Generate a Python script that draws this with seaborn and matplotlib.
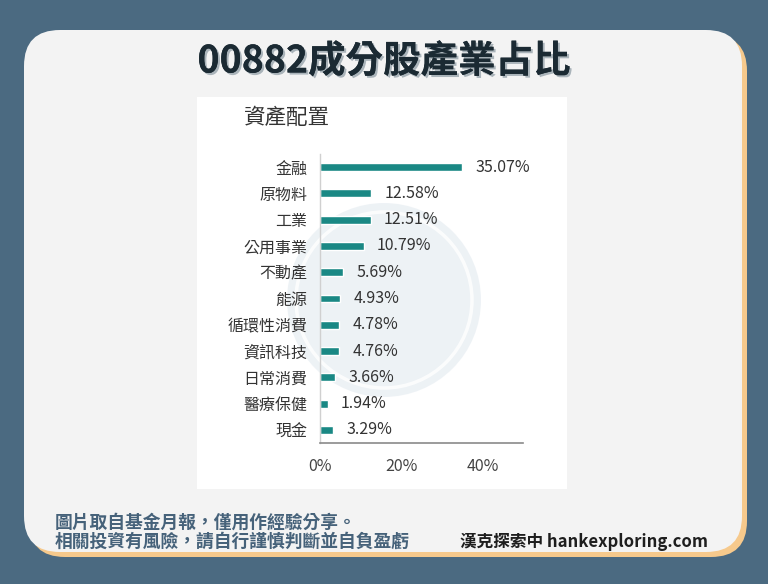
import matplotlib
matplotlib.use("Agg")
import matplotlib.pyplot as plt
import matplotlib.patheffects as pe
from matplotlib.patches import FancyBboxPatch, Rectangle, Circle
import pandas as pd
import seaborn as sns

# ---- data ----
categories = ["金融", "原物料", "工業", "公用事業", "不動產", "能源",
              "循環性消費", "資訊科技", "日常消費", "醫療保健", "現金"]
values = [35.07, 12.58, 12.51, 10.79, 5.69, 4.93, 4.78, 4.76, 3.66, 1.94, 3.29]
x_ticks = [0, 20, 40]
x_tick_labels = ["0%", "20%", "40%"]
title = "00882成分股產業占比"
panel_title = "資產配置"
footer_lines = ["圖片取自基金月報，僅用作經驗分享。",
                "相關投資有風險，請自行謹慎判斷並自負盈虧"]
brand = "漢克探索中 hankexploring.com"

sns.set_theme(style="white")
plt.rcParams["font.family"] = ["Noto Sans CJK TC", "DejaVu Sans"]

W, H = 768, 584
fig = plt.figure(figsize=(W / 100, H / 100), dpi=100, facecolor="#4b6a81")

# background / decoration axes in pixel coordinates
bg = fig.add_axes([0, 0, 1, 1], zorder=0)
bg.set_xlim(0, W)
bg.set_ylim(H, 0)
bg.axis("off")

bg.add_patch(FancyBboxPatch((29, 35), 718, 522,
                            boxstyle="round,pad=0,rounding_size=36",
                            fc="#f6c98c", ec="none"))
bg.add_patch(FancyBboxPatch((24, 30), 718, 522,
                            boxstyle="round,pad=0,rounding_size=36",
                            fc="#f3f3f3", ec="none"))
bg.add_patch(Rectangle((197, 97), 370, 392, fc="white", ec="none"))

# faint watermark (logo disc)
bg.add_patch(Circle((384, 300), 97, fc="#dde6ed", ec="none", alpha=0.5))
bg.add_patch(Circle((384, 300), 88, fc="none", ec="white", lw=2.5, alpha=0.8))

# title with soft shadow
bg.text(384, 61, title, ha="center", va="center", fontsize=27,
        fontweight="heavy", color="#1b2a33",
        path_effects=[pe.withSimplePatchShadow(offset=(1.5, -1.5),
                                               shadow_rgbFace="#7a8a95",
                                               alpha=0.6),
                      pe.Normal()])

bg.text(244, 118, panel_title, ha="left", va="center", fontsize=15.5,
        fontweight="medium", color="#333333")

bg.text(55, 523, footer_lines[0], ha="left", va="center", fontsize=12.8,
        fontweight="bold", color="#46627a")
bg.text(55, 542, footer_lines[1], ha="left", va="center", fontsize=12.8,
        fontweight="bold", color="#46627a")
bg.text(708, 542, brand, ha="right", va="center", fontsize=12,
        fontweight="bold", color="#1e1e1e")

# ---- bar chart ----
df = pd.DataFrame({"category": categories, "value": values})
ax = fig.add_axes([320 / W, 1 - 443 / H, 203 / W, 289 / H], zorder=2)
ax.set_facecolor("none")
sns.barplot(data=df, y="category", x="value", orient="h",
            color="#1a8884", width=0.3, saturation=1, ax=ax)

ax.bar_label(ax.containers[0], labels=[f"{v:.2f}%" for v in values],
             padding=9.5, fontsize=11.5, fontweight="medium", color="#333333")

ax.set_xlim(0, 50)
ax.set_xticks(x_ticks)
ax.set_xticklabels(x_tick_labels, fontsize=11.5, fontweight="medium",
                   color="#444444")
ax.set_xlabel("")
ax.set_ylabel("")
ax.tick_params(axis="y", length=0, pad=9, labelsize=11.5, labelcolor="#333333")
for t in ax.get_yticklabels():
    t.set_fontweight("medium")
ax.tick_params(axis="x", direction="inout", length=6, width=1,
               color="#8a8a8a", pad=8)
for s in ["top", "right"]:
    ax.spines[s].set_visible(False)
ax.spines["left"].set_color("#d0d0d0")
ax.spines["left"].set_linewidth(1)
ax.spines["bottom"].set_color("#8a8a8a")
ax.spines["bottom"].set_linewidth(1.2)

fig.savefig("out.png", dpi=100, facecolor=fig.get_facecolor())
